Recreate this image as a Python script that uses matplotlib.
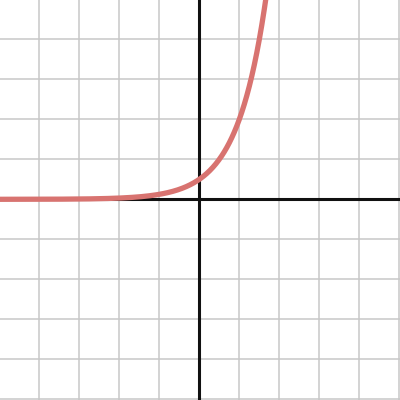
import numpy as np
import matplotlib
matplotlib.use("Agg")
import matplotlib.pyplot as plt

# y = a * b**x: f(0) ~ 0.5, f(1) ~ 2
a = 0.5
b = 4.0
x_range = (-4.983, 5.017)
y_range = (-5.017, 4.983)
grid_ticks = list(range(-5, 6))

x = np.linspace(x_range[0], x_range[1], 800)
y = a * b ** x

fig = plt.figure(figsize=(4, 4), dpi=100)
ax = fig.add_axes([0, 0, 1, 1])
ax.set_xlim(*x_range)
ax.set_ylim(*y_range)

for t in grid_ticks:
    ax.axvline(t, color='#c8c8c8', lw=1.1, zorder=1)
    ax.axhline(t, color='#c8c8c8', lw=1.1, zorder=1)
ax.axvline(0, color='#111111', lw=2.2, zorder=2)
ax.axhline(0, color='#111111', lw=2.2, zorder=2)

ax.plot(x, y, color='#d87370', lw=3.8, zorder=3, solid_capstyle='round')

ax.set_xticks([])
ax.set_yticks([])
for s in ax.spines.values():
    s.set_visible(False)

fig.savefig('out.png', dpi=100)
